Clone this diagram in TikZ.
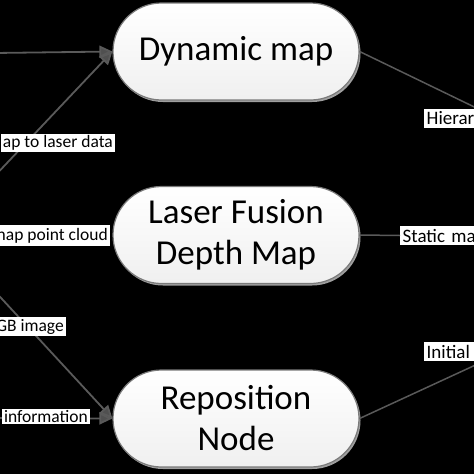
\documentclass[tikz,border=0pt]{standalone}
\usepackage{fontspec}
\setmainfont{Carlito}
\usetikzlibrary{shapes.misc,shadows,arrows.meta}
\definecolor{linegray}{HTML}{5A5A5A}
\definecolor{tipgray}{HTML}{505050}
\definecolor{rimgray}{HTML}{7A7A7A}
\begin{document}
\begin{tikzpicture}[x=1pt,y=-1pt,
  flownode/.style={rounded rectangle, minimum width=246pt, minimum height=97pt,
    draw=rimgray, line width=1.2pt, top color=white, bottom color=gray!12,
    drop shadow={shadow xshift=1.5pt, shadow yshift=-2pt, fill=gray!75, opacity=1},
    align=center, font=\fontsize{35}{41}\selectfont, inner sep=0pt},
  arr/.style={draw=linegray, line width=1.8pt, -{Triangle[length=13pt,width=12pt,fill=tipgray]}},
  ln/.style={draw=linegray, line width=1.5pt},
  llabel/.style={fill=white, text=black, font=\fontsize{17.5}{20}\selectfont,
    inner xsep=2pt, inner ysep=1.5pt, anchor=east},
  rlabel/.style={fill=white, text=black, font=\fontsize{19}{22}\selectfont,
    inner xsep=2.5pt, inner ysep=3pt, anchor=west, text width=80pt, align=left}
]
\useasboundingbox (0,0) rectangle (474,474);
\fill[black] (0,0) rectangle (474,474);
\clip (0,0) rectangle (474,474);

\node[flownode] (dyn) at (236,51.5) {Dynamic map};
\node[flownode] (las) at (236,235) {Laser Fusion\\Depth Map};
\node[flownode] (rep) at (236,418.5) {Reposition\\Node};

\coordinate (s1) at (-5,53);
\coordinate (s2) at (-10,181);
\coordinate (s3) at (-10,286);
\coordinate (s4) at (-5,418);
\coordinate (e1) at (495,117);
\coordinate (e3) at (495,356);

\draw[arr] (s1) -- (dyn.west);
\draw[arr] (s2) -- (dyn.west);
\draw[arr] (s3) -- (rep.west);
\draw[arr] (s4) -- (rep.west);

\node[rlabel] (lbS) at (400,235.5) {Static ma};
\draw[ln] (dyn.east) -- (e1);
\draw[ln] (las.east) -- (lbS.west);
\draw[ln] (rep.east) -- (e3);

\node[llabel] (lbA) at (115,143) {ap to laser data};
\node[llabel, inner ysep=3pt] (lbB) at (110,235.5) {nap point cloud};
\node[llabel] (lbC) at (66,326.5) {GB image};
\node[llabel] (lbD) at (90,416.5) {information};
\node[rlabel] (lbH) at (424,118.5) {Hierar};
\node[rlabel] (lbI) at (424,351.5) {Initial};
\end{tikzpicture}
\end{document}
